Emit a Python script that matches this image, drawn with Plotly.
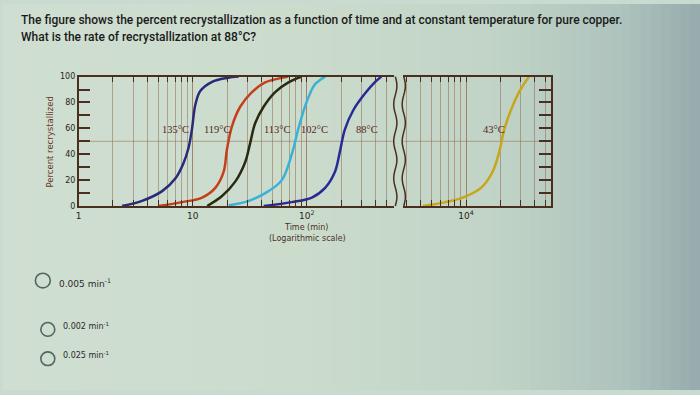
import numpy as np
import plotly.graph_objects as go

# ---------------- data ----------------
t135 = [2.4, 3.6, 5.4, 7.1, 8.3, 9.2, 9.8, 10.6, 11.7, 14.8, 20, 25.3]
p135 = [0, 4, 11.5, 21.6, 33, 45, 58, 79, 89, 96, 99, 100]
t119 = [5.0, 8.1, 12.1, 15.8, 18.7, 20.0, 22.1, 26.1, 33.1, 43.2, 60.5, 69]
p119 = [0, 3, 6.5, 14, 26.5, 44, 61.6, 76.7, 88, 95.5, 99, 100]
t113 = [13.4, 18.1, 23.7, 28.9, 32, 35.3, 41.9, 52.9, 69.2, 90.4]
p113 = [0, 7.7, 19, 34, 49, 64, 76.7, 88, 95.5, 100]
t102 = [20.7, 31, 46.3, 60.5, 74, 84.6, 96.7, 107, 118, 145]
p102 = [0.5, 4, 11.5, 20, 40, 60, 77, 87, 94, 100]
t88 = [42, 74, 111, 145, 177, 195, 216, 256, 323, 395, 452]
p88 = [0, 3, 6.5, 14, 26.5, 41.6, 59, 74, 86.7, 95.5, 100]
t43 = [4190, 6470, 9360, 13530, 17120, 19550, 21640, 24770, 29200, 35700]
p43 = [0, 2.8, 6.5, 14, 26.5, 41.6, 59, 74, 88, 100]

curve_names = ["135°C", "119°C", "113°C", "102°C", "88°C", "43°C"]
label_t = [7.0, 16.4, 55.8, 117, 341, 17700]
label_p = [59.5, 59.5, 59.5, 59.5, 59.5, 59.5]

x_left_ticks = [1, 10, 100]
x_left_text = ["1", "10", "10<sup>2</sup>"]
x_right_ticks = [10000]
x_right_text = ["10<sup>4</sup>"]
y_ticks = [0, 20, 40, 60, 80, 100]

options = ["0.005 min<sup>-1</sup>", "0.002 min<sup>-1</sup>", "0.025 min<sup>-1</sup>"]

# ---------------- styling ----------------
W, H = 700, 395
def px(x):
    return x / W
def py(y):
    return 1 - y / H

AXC = "#4a2e1e"
GRID = "rgba(150,110,80,0.55)"
colors = ["#2b2a78", "#c4401c", "#2a2a12", "#3ab2d8", "#2a2a96", "#c8a61a"]

fig = go.Figure()
left = [(t135, p135), (t119, p119), (t113, p113), (t102, p102), (t88, p88)]
for (t, p), c, n in zip(left, colors[:5], curve_names[:5]):
    fig.add_trace(go.Scatter(x=t, y=p, mode="lines", line=dict(color=c, width=2.5, shape="spline"),
                             name=n, xaxis="x", yaxis="y", showlegend=False, hoverinfo="skip"))
fig.add_trace(go.Scatter(x=t43, y=p43, mode="lines", line=dict(color=colors[5], width=2.5, shape="spline"),
                         name=curve_names[5], xaxis="x2", yaxis="y2", showlegend=False, hoverinfo="skip"))

ydom = [py(206.7), py(74.3)]
xdom1 = [px(76), px(393)]
xdom2 = [px(402), px(550)]
dec = 114.5
r1 = [0, (393 - 76) / dec]
r2 = [4 - (465 - 402) / dec, 4 + (550 - 465) / dec]

tickfont = dict(family="DejaVu Sans", size=8, color="#2a2420")
xcommon = dict(type="log", showline=True, linecolor=AXC, linewidth=1.5, mirror="ticks",
               ticks="inside", ticklen=6, tickcolor=AXC, tickwidth=1,
               showgrid=True, gridcolor=GRID, gridwidth=1, zeroline=False,
               tickfont=dict(family="DejaVu Sans", size=9, color="#2a2420"),
               minor=dict(dtick="D1", ticks="inside", ticklen=6, tickcolor=AXC,
                          showgrid=True, gridcolor=GRID, gridwidth=1))
fig.update_layout(
    xaxis=dict(domain=xdom1, range=r1, anchor="y", tickvals=x_left_ticks, ticktext=x_left_text, **xcommon),
    xaxis2=dict(domain=xdom2, range=r2, anchor="y2", tickvals=x_right_ticks, ticktext=x_right_text, **xcommon),
    yaxis=dict(domain=ydom, range=[0, 100], anchor="x", tickvals=y_ticks, showline=True, linecolor=AXC,
               linewidth=1.5, ticks="inside", ticklen=12, tickcolor=AXC, tickwidth=1.5, showgrid=False,
               zeroline=False, tickfont=tickfont,
               minor=dict(dtick=10, ticks="inside", ticklen=12, tickcolor=AXC, tickwidth=1.5)),
    yaxis2=dict(domain=ydom, range=[0, 100], anchor="x2", side="right", showticklabels=False,
                showline=True, linecolor=AXC, linewidth=1.5, ticks="inside", ticklen=12, tickcolor=AXC,
                tickwidth=1.5, dtick=10, showgrid=False, zeroline=False),
)

shapes = []
# photographed-screen background: soft horizontal colour gradient (decoration)
stops_x = [0, 300, 500, 620, 700]
stops_c = [(0xcf, 0xde, 0xd1), (0xcb, 0xdc, 0xcd), (0xc0, 0xd3, 0xc6), (0xae, 0xc3, 0xbd), (0x96, 0xab, 0xad)]
for x0 in range(0, W, 10):
    xm = x0 + 5
    rgb = [int(round(np.interp(xm, stops_x, [c[k] for c in stops_c]))) for k in range(3)]
    shapes.append(dict(type="rect", xref="paper", yref="paper", x0=px(x0), x1=px(x0 + 10.5), y0=0, y1=1,
                       fillcolor="rgb(%d,%d,%d)" % tuple(rgb), line=dict(width=0), layer="below"))
# 50 % horizontal grid line in each panel
for xr, yr in (("x domain", "y"), ("x2 domain", "y2")):
    shapes.append(dict(type="line", xref=xr, yref=yr, x0=0, x1=1, y0=50, y1=50,
                       line=dict(color=GRID, width=1), layer="below"))
# wavy break lines
ys = np.linspace(74.3, 206.7, 60)
for xc in (394.0, 402.5):
    xs = xc + 1.6 * np.sin((ys - 74.3) / 132.4 * 2 * np.pi * 3.5)
    path = "M " + " L ".join(f"{px(a):.5f},{py(b):.5f}" for a, b in zip(xs, ys))
    shapes.append(dict(type="path", xref="paper", yref="paper", path=path,
                       line=dict(color=AXC, width=1.5)))
# radio circles
for (cx, cy, r) in ((40, 283, 7.5), (45, 333, 7), (45, 363, 7)):
    shapes.append(dict(type="circle", xref="paper", yref="paper",
                       x0=px(cx - r), x1=px(cx + r), y0=py(cy + r), y1=py(cy - r),
                       line=dict(color="#56665c", width=1.6)))

ann = []
ann.append(dict(xref="paper", yref="paper", x=px(16), y=py(16), xanchor="left", yanchor="middle",
                text="The figure shows the percent recrystallization as a function of time and at constant temperature for pure copper.",
                showarrow=False, font=dict(family="Roboto", size=12, color="#1a1a1a", weight=500)))
ann.append(dict(xref="paper", yref="paper", x=px(16), y=py(34), xanchor="left", yanchor="middle",
                text="What is the rate of recrystallization at 88°C?",
                showarrow=False, font=dict(family="Roboto", size=12, color="#1a1a1a", weight=500)))
ann.append(dict(xref="paper", yref="paper", x=px(40), y=py(141), textangle=-90,
                text="Percent recrystallized", showarrow=False,
                font=dict(family="DejaVu Sans", size=8.5, color="#6a3a24")))
ann.append(dict(xref="paper", yref="paper", x=px(304), y=py(229), text="Time (min)", showarrow=False,
                font=dict(family="DejaVu Sans", size=8, color="#4a3024")))
ann.append(dict(xref="paper", yref="paper", x=px(306), y=py(240), text="(Logarithmic scale)", showarrow=False,
                font=dict(family="DejaVu Sans", size=8, color="#4a3024")))
for i, (n, t, p) in enumerate(zip(curve_names, label_t, label_p)):
    ax = "x" if i < 5 else "x2"
    yy = "y" if i < 5 else "y2"
    ann.append(dict(xref=ax, yref=yy, x=np.log10(t), y=p, text=n, showarrow=False,
                    font=dict(family="Liberation Serif", size=10.5, color="#5a2418")))
opt_pos = [(54, 285, 9), (58, 329, 8), (58, 359, 8)]
for txt, (x, y, s) in zip(options, opt_pos):
    ann.append(dict(xref="paper", yref="paper", x=px(x), y=py(y), xanchor="left", yanchor="middle",
                    text=txt, showarrow=False, font=dict(family="DejaVu Sans", size=s, color="#2a2a2a")))

fig.update_layout(width=W, height=H, margin=dict(l=0, r=0, t=0, b=0),
                  paper_bgcolor="#c9dbd0", plot_bgcolor="rgba(0,0,0,0)",
                  shapes=shapes, annotations=ann, showlegend=False)
fig.write_html("out.html", config={"displayModeBar": False},
               post_script="document.body.style.margin='0';document.body.style.overflow='hidden';")
